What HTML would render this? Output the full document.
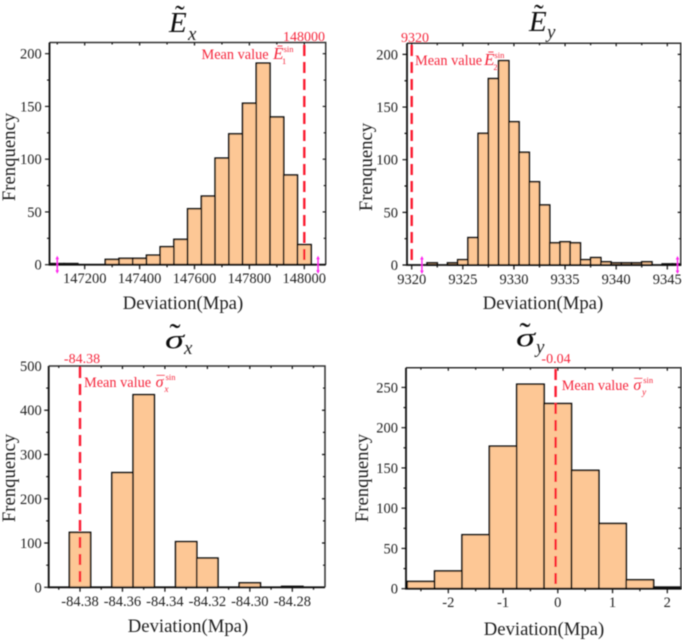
<!DOCTYPE html>
<html lang="en">
<head>
<meta charset="utf-8">
<title>Deviation histograms</title>
<style>
html,body{margin:0;padding:0;background:#fff;width:685px;height:640px;overflow:hidden}
svg{display:block;font-family:"Liberation Serif",serif}
.tick-label{font-size:14.5px;fill:#222}
.axis-title{font-size:18.7px;fill:#222}
.main{font-size:29px;font-style:italic;fill:#111}
.greek{font-size:26px;font-style:italic;fill:#111}
.tilde{font-size:29px;fill:#111}
.tilde-g{font-size:33px;fill:#111}
.sub{font-size:19px;font-style:italic;fill:#222}
.red{fill:#f5283c}
.num{font-size:14px;text-anchor:middle}
.mean{font-size:14.3px}
.sym{font-style:italic;font-size:17px}
.gsym{font-style:italic;font-size:16px}
.bar{font-size:16px}
.small{font-size:8.5px}
.smalli{font-size:9px;font-style:italic}
</style>
</head>
<body>
<svg id="figure" width="685" height="640" viewBox="0 0 685 640" xmlns="http://www.w3.org/2000/svg">
<defs><filter id="soft" x="0" y="0" width="100%" height="100%"><feGaussianBlur stdDeviation="0.4"/></filter></defs>
<g filter="url(#soft)">
<g id="p1">
<text class="main" x="169" y="32">E</text>
<text class="tilde" x="175" y="25">˜</text>
<text class="sub" x="188" y="40">x</text>
<text class="axis-title" x="183" y="309" text-anchor="middle">Deviation(Mpa)</text>
<text class="axis-title" transform="translate(15 157) rotate(-90)" text-anchor="middle">Frenquency</text>
</g>
<g id="p2">
<text class="main" x="529" y="31">E</text>
<text class="tilde" x="534" y="24">˜</text>
<text class="sub" x="547" y="38">y</text>
<text class="axis-title" x="543" y="309" text-anchor="middle">Deviation(Mpa)</text>
<text class="axis-title" transform="translate(372 167) rotate(-90)" text-anchor="middle">Frenquency</text>
</g>
<g id="p3">
<text class="greek" x="165" y="348" textLength="19" lengthAdjust="spacingAndGlyphs">σ</text>
<text class="tilde-g" x="169.5" y="346">˜</text>
<text class="sub" x="184" y="354">x</text>
<text class="axis-title" x="188" y="632" text-anchor="middle">Deviation(Mpa)</text>
<text class="axis-title" transform="translate(15 478) rotate(-90)" text-anchor="middle">Frenquency</text>
</g>
<g id="p4">
<text class="greek" x="516" y="346" textLength="19" lengthAdjust="spacingAndGlyphs">σ</text>
<text class="tilde-g" x="519.5" y="345">˜</text>
<text class="sub" x="536" y="353">y</text>
<text class="axis-title" x="544" y="635" text-anchor="middle">Deviation(Mpa)</text>
<text class="axis-title" transform="translate(368 478) rotate(-90)" text-anchor="middle">Frenquency</text>
</g>
<g id="overlay">
<text class="red num" x="304" y="41">148000</text>
<text class="red mean" x="201.5" y="59">Mean value <tspan class="sym" dx="1">Ē</tspan><tspan class="small" dy="-7">sin</tspan><tspan class="small" dy="12" dx="-11.5">1</tspan></text>
<text class="red num" x="415" y="42">9320</text>
<text class="red mean" x="415" y="65">Mean value<tspan class="sym" dx="2">Ē</tspan><tspan class="small" dy="-7">sin</tspan><tspan class="small" dy="12" dx="-11">2</tspan></text>
<text class="red num" x="82" y="363">-84.38</text>
<text class="red mean" x="84" y="387">Mean value <tspan class="gsym" dx="1">σ</tspan><tspan class="bar" dx="-7">¯</tspan><tspan class="small" dx="1" dy="-7">sin</tspan><tspan class="smalli" dx="-11" dy="12">x</tspan></text>
<text class="red num" x="556" y="363">-0.04</text>
<text class="red mean" x="561.7" y="390">Mean value <tspan class="gsym" dx="1">σ</tspan><tspan class="bar" dx="-7">¯</tspan><tspan class="small" dx="1" dy="-7">sin</tspan><tspan class="smalli" dx="-11" dy="12">y</tspan></text>
</g>
</g>
</svg>
<script>
// Panel E_x
const exBinStarts = [147075,147125,147175,147225,147275,147325,147375,147425,147475,147525,147575,147625,147675,147725,147775,147825,147875,147925,147975];
const exCounts = [1,1,0,0,5,6,6,9,17,24,53,65,101,124,153,191,140,85,19];
const exXTicks = [147200,147400,147600,147800,148000];
const exYTicks = [0,50,100,150,200];
const exMean = 148000;
const exExtremes = [147100,148050];

// Panel E_y
const eyBinStarts = [9321.5,9322.5,9323.5,9324.5,9325.5,9326.5,9327.5,9328.5,9329.5,9330.5,9331.5,9332.5,9333.5,9334.5,9335.5,9336.5,9337.5,9338.5,9339.5,9340.5,9341.5,9342.5,9343.5,9344.5,9345.5];
const eyCounts = [2,0,2,5,26,125,177,194,136,107,79,57,21,22,21,5,7,3,2,2,2,3,0,1,1];
const eyXTicks = [9320,9325,9330,9335,9340,9345];
const eyYTicks = [0,50,100,150,200];
const eyMean = 9320;
const eyExtremes = [9321,9346];

// Panel sigma_x
const sxBinStarts = [-84.385,-84.375,-84.365,-84.355,-84.345,-84.335,-84.325,-84.315,-84.305,-84.295,-84.285];
const sxCounts = [124,0,259,435,0,103,66,0,10,0,2];
const sxXTicks = [-84.38,-84.36,-84.34,-84.32,-84.30,-84.28];
const sxYTicks = [0,100,200,300,400,500];
const sxMean = -84.38;

// Panel sigma_y
const syBinStarts = [-2.75,-2.25,-1.75,-1.25,-0.75,-0.25,0.25,0.75,1.25,1.75];
const syCounts = [9,22,67,177,254,230,147,81,11,2];
const syXTicks = [-2,-1,0,1,2];
const syYTicks = [0,50,100,150,200,250];
const syMean = -0.04;

const NS = 'http://www.w3.org/2000/svg';

function mk(tag, parent, attrs) {
  const el = document.createElementNS(NS, tag);
  for (const k in attrs) el.setAttribute(k, attrs[k]);
  parent.appendChild(el);
  return el;
}

function drawPanel(cfg) {
  const root = document.getElementById(cfg.id);
  const L = cfg.box[0], T = cfg.box[1], R = cfg.box[2], B = cfg.box[3];
  const xScale = v => cfg.x0 + (v - cfg.xRef[0]) * (cfg.x1 - cfg.x0) / (cfg.xRef[1] - cfg.xRef[0]);
  const yScale = v => B - v * cfg.yPx;

  // bars
  cfg.starts.forEach((s, i) => {
    const x0 = xScale(s), x1 = xScale(s + cfg.binWidth);
    const xa = Math.max(x0, L), xb = Math.min(x1, R);
    if (xb <= xa) return;
    const bar = mk('rect', root, {x: xa, y: yScale(cfg.counts[i]), width: xb - xa, height: B - yScale(cfg.counts[i]), fill: '#fdc795', stroke: '#111', 'stroke-width': 1.6});
    
    
  });

  // frame
  const frame = mk('path', root, {d: `M${L} ${T}H${R}V${B}`, fill: 'none', stroke: '#333', 'stroke-width': 1.5});
  
  
  const axes = mk('path', root, {d: `M${L} ${T}V${B}H${R}`, fill: 'none', stroke: '#111', 'stroke-width': 1.8});
  
  

  // x ticks
  const xStep = cfg.xTicks[1] - cfg.xTicks[0];
  for (let k = -2; k <= (cfg.xTicks.length - 1) * 2 + 3; k++) {
    const v = cfg.xTicks[0] + k * xStep / 2;
    const px = xScale(v);
    if (px < L + 0.5 || px > R - 0.5) continue;
    const major = k % 2 === 0;
    const t = mk('path', root, {d: `M${px} ${B}v${major ? 4.5 : 2.5}M${px} ${T}v${major ? 3 : 2}`, stroke: '#111', 'stroke-width': 1.2, fill: 'none'});
    
    
  }
  cfg.xTicks.forEach(v => {
    const lab = mk('text', root, {class: 'tick-label', x: xScale(v), y: cfg.xLabelY, 'text-anchor': 'middle'});
    lab.textContent = cfg.xFmt(v);
    
    
  });

  // y ticks
  const yStep = cfg.yTicks[1] - cfg.yTicks[0];
  for (let k = 0; k <= (cfg.yTicks.length - 1) * 2 + 2; k++) {
    const v = k * yStep / 2;
    const py = yScale(v);
    if (py < T + 0.5) continue;
    const major = k % 2 === 0;
    const t = mk('path', root, {d: `M${L} ${py}h${major ? -4.5 : -2.5}M${R} ${py}h${major ? -3 : -2}`, stroke: '#111', 'stroke-width': 1.2, fill: 'none'});
    
    
  }
  cfg.yTicks.forEach(v => {
    const lab = mk('text', root, {class: 'tick-label', x: cfg.yLabelX, y: yScale(v) + 5, 'text-anchor': 'end'});
    lab.textContent = String(v);
    
    
  });

  // mean line
  const m = xScale(cfg.mean);
  const line = mk('line', root, {x1: m, x2: m, y1: cfg.meanTop, y2: B, stroke: '#fb1a30', 'stroke-width': 2.4, 'stroke-dasharray': '11 6'});
  
  

  // extreme markers
  (cfg.extremes || []).forEach(v => {
    const px = xScale(v);
    const mark = mk('path', root, {d: `M${px} ${B - 9}L${px + 1.8} ${B - 5.5}H${px + 0.7}V${B + 5.5}H${px + 1.8}L${px} ${B + 9}L${px - 1.8} ${B + 5.5}H${px - 0.7}V${B - 5.5}H${px - 1.8}Z`, fill: '#ff22ee', stroke: 'none'});
    
    
  });
}

drawPanel({id: 'p1', box: [49.5, 42.5, 325.7, 264.7], xRef: [147200, 148000], x0: 84.7, x1: 304.3, yPx: 1.055,
  starts: exBinStarts, counts: exCounts, binWidth: 50, xTicks: exXTicks, yTicks: exYTicks, mean: exMean, extremes: exExtremes,
  xFmt: v => String(v), xLabelY: 283, yLabelX: 41.7, meanTop: 45});
drawPanel({id: 'p2', box: [407, 43.3, 680.7, 265], xRef: [9320, 9345], x0: 411.7, x1: 667.3, yPx: 1.053,
  starts: eyBinStarts, counts: eyCounts, binWidth: 1, xTicks: eyXTicks, yTicks: eyYTicks, mean: eyMean, extremes: eyExtremes,
  xFmt: v => String(v), xLabelY: 284, yLabelX: 398, meanTop: 45});
drawPanel({id: 'p3', box: [48.7, 366, 325, 587.3], xRef: [-84.38, -84.28], x0: 80, x1: 292.3, yPx: 0.4427,
  starts: sxBinStarts, counts: sxCounts, binWidth: 0.01, xTicks: sxXTicks, yTicks: sxYTicks, mean: sxMean,
  xFmt: v => v.toFixed(2), xLabelY: 606, yLabelX: 41.7, meanTop: 367});
drawPanel({id: 'p4', box: [406, 367.7, 681, 588.7], xRef: [-2, 2], x0: 448.3, x1: 667.3, yPx: 0.805,
  starts: syBinStarts, counts: syCounts, binWidth: 0.5, xTicks: syXTicks, yTicks: syYTicks, mean: syMean,
  xFmt: v => String(v), xLabelY: 607, yLabelX: 398, meanTop: 369});
</script>
</body>
</html>
